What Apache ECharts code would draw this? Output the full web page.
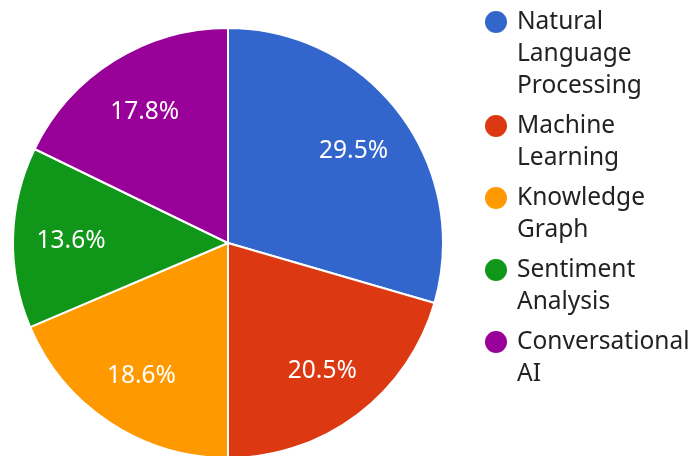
<!DOCTYPE html>
<html>
<head>
<meta charset="utf-8">
<script src="https://cdn.jsdelivr.net/npm/echarts@6/dist/echarts.min.js"></script>
<style>
  html, body { margin: 0; padding: 0; background: #fff; }
  #pie { width: 693px; height: 456px; }
</style>
</head>
<body>
<div id="pie"></div>
<script>
var categories = ['Natural Language Processing', 'Machine Learning', 'Knowledge Graph', 'Sentiment Analysis', 'Conversational AI'];
var legendLines = [['Natural', 'Language', 'Processing'], ['Machine', 'Learning'], ['Knowledge', 'Graph'], ['Sentiment', 'Analysis'], ['Conversational', 'AI']];
var shares = [29.5, 20.5, 18.6, 13.6, 17.8];
var colors = ['#3366cc', '#dc3912', '#ff9900', '#109618', '#990099'];

var FONT = '"Noto Sans", sans-serif';
var LINE_H = 32;

var pieData = categories.map(function (name, i) {
    return { name: name, value: shares[i], itemStyle: { color: colors[i] } };
});
var labelData = categories.map(function (name, i) {
    return { name: name, value: shares[i] };
});

var chart = echarts.init(document.getElementById('pie'));
chart.setOption({
    animation: false,
    legend: {
        orient: 'vertical',
        left: 483,
        top: -58,
        height: 800,
        padding: 0,
        itemGap: -24,
        itemWidth: 24,
        itemHeight: 24,
        icon: 'circle',
        data: categories,
        // legend text is centred on the icon, so blank lines on top
        // bring the first real line level with the dot
        formatter: function (name) {
            var lines = legendLines[categories.indexOf(name)];
            var pad = [];
            for (var k = 1; k < lines.length; k++) pad.push('');
            return pad.concat(lines).join('\n');
        },
        textStyle: { fontFamily: FONT, fontSize: 24.5, lineHeight: LINE_H, color: '#222', padding: [0, 0, 0, 4] }
    },
    series: [
        {
            type: 'pie',
            center: [228, 243],
            radius: 215,
            startAngle: 90,
            clockwise: true,
            label: { show: false },
            labelLine: { show: false },
            itemStyle: { borderColor: '#fff', borderWidth: 2 },
            emphasis: { disabled: true },
            data: pieData
        },
        {
            // transparent ring that only carries the percentage labels
            type: 'pie',
            center: [228, 243],
            radius: [93, 215],
            startAngle: 90,
            clockwise: true,
            silent: true,
            itemStyle: { color: 'rgba(0,0,0,0)', borderWidth: 0 },
            label: {
                show: true,
                position: 'inside',
                offset: [0, 2],
                fontFamily: FONT,
                fontSize: 24.5,
                color: '#fff',
                formatter: function (p) { return p.value.toFixed(1) + '%'; }
            },
            labelLine: { show: false },
            emphasis: { disabled: true },
            data: labelData
        }
    ]
});
</script>
</body>
</html>
